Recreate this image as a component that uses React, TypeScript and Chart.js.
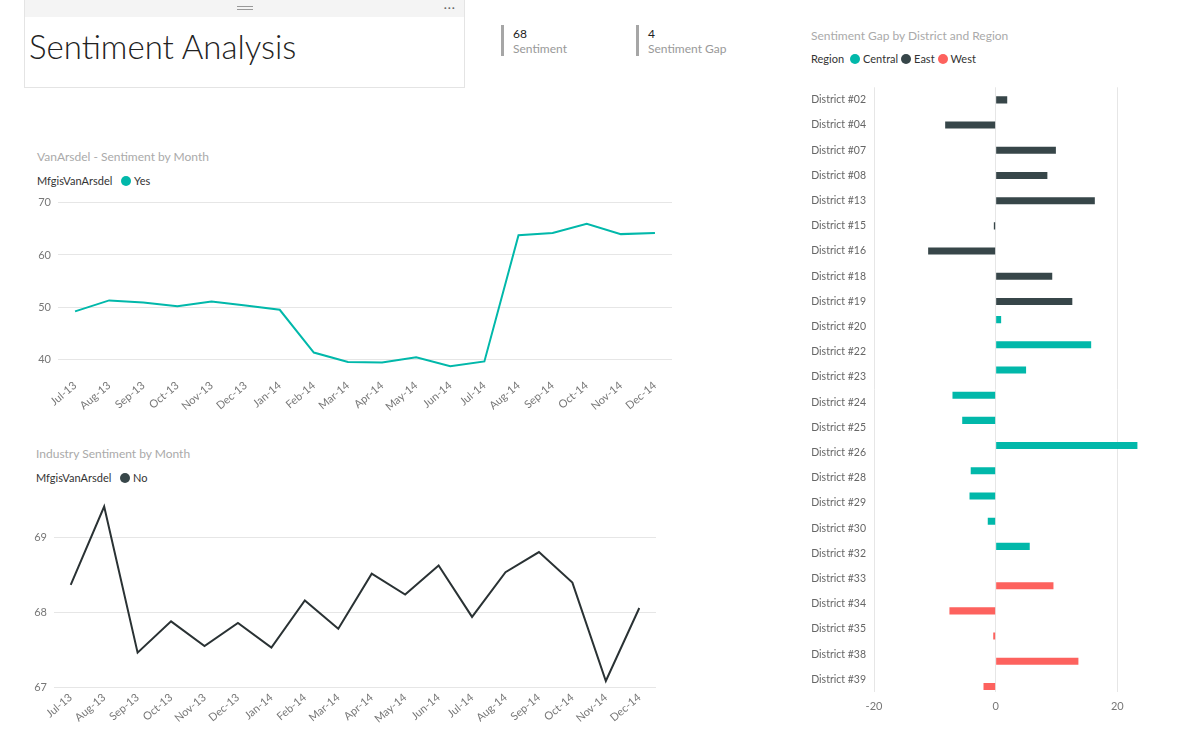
import React, { useEffect, useRef } from "react";
import { Chart, registerables } from "chart.js";
Chart.register(...registerables);

const FONT = "Lato, 'Segoe UI', 'Open Sans', sans-serif";

const months = ["Jul-13","Aug-13","Sep-13","Oct-13","Nov-13","Dec-13","Jan-14","Feb-14","Mar-14","Apr-14","May-14","Jun-14","Jul-14","Aug-14","Sep-14","Oct-14","Nov-14","Dec-14"];
const vanArsdelSentiment = [49.2,51.3,50.9,50.2,51.1,50.3,49.5,41.3,39.5,39.4,40.4,38.7,39.6,63.8,64.2,66.0,64.0,64.2];
const industrySentiment = [68.37,69.42,67.46,67.88,67.55,67.86,67.53,68.16,67.78,68.52,68.24,68.63,67.94,68.54,68.81,68.40,67.08,68.06];
const vanTicks = [40,50,60,70];
const industryTicks = [67,68,69];

const districts = ["District #02","District #04","District #07","District #08","District #13","District #15","District #16","District #18","District #19","District #20","District #22","District #23","District #24","District #25","District #26","District #28","District #29","District #30","District #32","District #33","District #34","District #35","District #38","District #39"];
const centralGap = [null,null,null,null,null,null,null,null,null,0.9,15.7,5.0,-7.1,-5.5,23.3,-4.1,-4.3,-1.3,5.6,null,null,null,null,null];
const eastGap = [1.9,-8.3,9.9,8.5,16.3,-0.3,-11.1,9.3,12.6,null,null,null,null,null,null,null,null,null,null,null,null,null,null,null];
const westGap = [null,null,null,null,null,null,null,null,null,null,null,null,null,null,null,null,null,null,null,9.5,-7.6,-0.4,13.6,-2.0];
const gapTicks = [-20,0,20];

const TEAL = "#01B8AA";
const DARK = "#374649";
const RED = "#FD625E";

function ChartCanvas({ config, style, width, height }: any) {
  const ref = useRef<HTMLCanvasElement | null>(null);
  useEffect(() => {
    if (!ref.current) return;
    const c = new Chart(ref.current, config());
    return () => c.destroy();
  }, []);
  return <canvas ref={ref} width={width} height={height} style={{ position: "absolute", width, height, ...style }} />;
}

function lineConfig(data: number[], color: string, min: number, max: number, ticks: number[]) {
  return () => ({
    type: "line",
    data: {
      labels: months,
      datasets: [{ data, borderColor: color, borderWidth: 2, pointRadius: 0, tension: 0, fill: false }],
    },
    options: {
      responsive: false,
      animation: false,
      devicePixelRatio: 1,
      layout: { padding: { top: 0, right: 2, left: 0, bottom: 0 } },
      plugins: { legend: { display: false }, tooltip: { enabled: false } },
      scales: {
        x: {
          offset: true,
          grid: { display: false, drawTicks: false },
          border: { display: false },
          ticks: { color: "#777", font: { family: FONT, size: 11 }, minRotation: 40, maxRotation: 40, padding: 4, autoSkip: false },
          afterFit: (s: any) => { s.height = 40; },
        },
        y: {
          min, max,
          grid: { color: "#e6e6e6", drawTicks: false },
          border: { display: false },
          ticks: { color: "#777", font: { family: FONT, size: 11 }, padding: 7 },
          afterBuildTicks: (s: any) => { s.ticks = ticks.map((v) => ({ value: v })); },
          afterFit: (s: any) => { s.width = 40; },
        },
      },
    },
  });
}

function barConfig() {
  const ds = (label: string, data: any[], color: string) => ({
    label, data, backgroundColor: color, borderWidth: 0, categoryPercentage: 0.84, barPercentage: 1,
  });
  return {
    type: "bar",
    data: {
      labels: districts,
      datasets: [ds("Central", centralGap, TEAL), ds("East", eastGap, DARK), ds("West", westGap, RED)],
    },
    options: {
      indexAxis: "y",
      responsive: false,
      animation: false,
      devicePixelRatio: 1,
      layout: { padding: 0 },
      plugins: { legend: { display: false }, tooltip: { enabled: false } },
      scales: {
        x: {
          min: -20, max: 28,
          grid: { color: "#e6e6e6", drawTicks: false },
          border: { display: false },
          ticks: { color: "#777", font: { family: FONT, size: 11 }, padding: 8 },
          afterBuildTicks: (s: any) => { s.ticks = gapTicks.map((v) => ({ value: v })); },
          afterFit: (s: any) => { s.height = 24; },
        },
        y: {
          grid: { display: false, drawTicks: false },
          border: { display: false },
          ticks: { color: "#666", font: { family: FONT, size: 10.5 }, padding: 8, autoSkip: false },
          afterFit: (s: any) => { s.width = 80; },
        },
      },
    },
  };
}

const abs = (x: number, y: number, extra: any = {}) => ({ position: "absolute" as const, left: x, top: y, ...extra });
const dot = (color: string) => (
  <span style={{ display: "inline-block", width: 10, height: 10, borderRadius: 5, background: color, margin: "0 3px 0 0", verticalAlign: "-1px" }} />
);

export default function App() {
  return (
    <div style={{ position: "absolute", left: 0, top: 0, width: 1200, height: 752, background: "#fff", fontFamily: FONT, overflow: "hidden" }}>
      {/* Title box */}
      <div style={abs(24, -1, { width: 441, height: 89, border: "1px solid #e4e4e4", boxSizing: "border-box" })}>
        <div style={{ height: 17, background: "#f4f4f4", position: "relative" }}>
          <div style={{ position: "absolute", left: 212, top: 6, width: 16, height: 1, background: "#999" }} />
          <div style={{ position: "absolute", left: 212, top: 9, width: 16, height: 1, background: "#999" }} />
          <div style={{ position: "absolute", right: 8, top: 0, fontSize: 12, color: "#666", letterSpacing: 1 }}>···</div>
        </div>
        <div style={{ position: "absolute", left: 4, top: 26, fontSize: 33, fontWeight: 300, color: "#222", fontFamily: "'Segoe UI Light', Lato, 'Open Sans', sans-serif", whiteSpace: "nowrap" }}>Sentiment Analysis</div>
      </div>

      {/* KPI cards */}
      <div style={abs(501, 25, { width: 3, height: 31, background: "#a6a6a6" })} />
      <div style={abs(513, 26, { fontSize: 12, color: "#222" })}>68</div>
      <div style={abs(513, 41, { fontSize: 12, color: "#999" })}>Sentiment</div>
      <div style={abs(636, 25, { width: 3, height: 31, background: "#a6a6a6" })} />
      <div style={abs(648, 26, { fontSize: 12, color: "#222" })}>4</div>
      <div style={abs(648, 41, { fontSize: 12, color: "#999" })}>Sentiment Gap</div>

      {/* Chart 1 */}
      <div style={abs(37, 149, { fontSize: 12, color: "#aaa", whiteSpace: "nowrap" })}>VanArsdel - Sentiment by Month</div>
      <div style={abs(37, 174, { fontSize: 11, color: "#333", whiteSpace: "nowrap" })}>
        MfgisVanArsdel <span style={{ marginLeft: 6 }}>{dot(TEAL)}</span>Yes
      </div>
      <ChartCanvas config={lineConfig(vanArsdelSentiment, TEAL, 37, 71, vanTicks)} style={{ left: 18, top: 184 }} width={656} height={231} />

      {/* Chart 2 */}
      <div style={abs(36, 446, { fontSize: 12, color: "#aaa", whiteSpace: "nowrap" })}>Industry Sentiment by Month</div>
      <div style={abs(36, 471, { fontSize: 11, color: "#333", whiteSpace: "nowrap" })}>
        MfgisVanArsdel <span style={{ marginLeft: 6 }}>{dot(DARK)}</span>No
      </div>
      <ChartCanvas config={lineConfig(industrySentiment, "#2a3234", 67, 69.5, industryTicks)} style={{ left: 14, top: 487 }} width={644} height={240} />

      {/* Bar chart */}
      <div style={abs(811, 28, { fontSize: 12, color: "#aaa", whiteSpace: "nowrap" })}>Sentiment Gap by District and Region</div>
      <div style={abs(811, 52, { fontSize: 11, color: "#333", whiteSpace: "nowrap" })}>
        <span style={{ marginRight: 6 }}>Region</span>{dot(TEAL)}<span style={{ marginRight: 3 }}>Central</span>{dot(DARK)}<span style={{ marginRight: 3 }}>East</span>{dot(RED)}West
      </div>
      <ChartCanvas config={barConfig} style={{ left: 794, top: 73 }} width={372} height={643} />
    </div>
  );
}
